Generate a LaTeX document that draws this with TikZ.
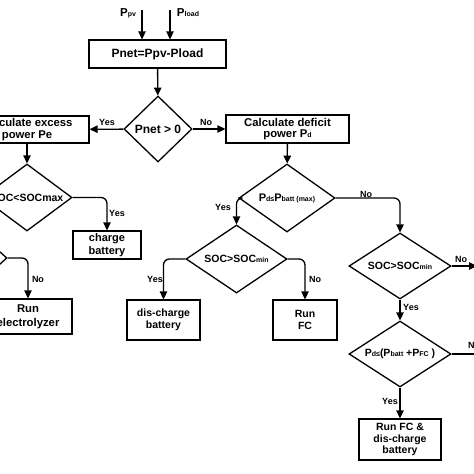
\documentclass[tikz,border=0pt]{standalone}
\usepackage{fontspec}
\setmainfont{Liberation Sans}
\usetikzlibrary{shapes.geometric,arrows.meta}
\newcommand{\smtxt}[1]{{\fontsize{7}{8}\selectfont #1}}
\tikzstyle{box} = [draw, line width=1.3pt, inner sep=0pt, align=center, font=\fontsize{10.5}{11.5}\selectfont\bfseries]
\tikzstyle{dec} = [draw, diamond, line width=1.3pt, inner sep=0pt]
\tikzstyle{dlbl} = [inner sep=0pt, font=\fontsize{10.5}{11.5}\selectfont\bfseries]
\tikzstyle{arr} = [line width=1.3pt, rounded corners=6pt, -{Triangle[length=8pt,width=7.5pt]}]
\tikzstyle{lbl} = [inner sep=0pt, font=\fontsize{9}{10}\selectfont\bfseries]

\begin{document}
\begin{tikzpicture}[x=1pt, y=-1pt]
\useasboundingbox (0,0) rectangle (474,474);
\clip (0,0) rectangle (474,474);
\node[lbl, font=\fontsize{11.5}{12}\selectfont\bfseries] (ppv) at (128,13) {P\smtxt{pv}};
\node[lbl, font=\fontsize{11.5}{12}\selectfont\bfseries] (pload) at (188,13) {P\smtxt{load}};
\coordinate (pvtop) at (142,10);
\coordinate (loadtop) at (170,10);
\node[box, minimum width=137pt, minimum height=28pt, font=\fontsize{12}{13}\selectfont\bfseries] (pnet) at (157.5,54) {Pnet=Ppv-Pload};
\node[dec, minimum width=68pt, minimum height=66pt,
      label={[dlbl, font=\fontsize{12}{13}\selectfont\bfseries]center:Pnet > 0}] (dpos) at (158,129) {};
\node[box, minimum width=124pt, minimum height=27pt, font=\fontsize{11.3}{11.5}\selectfont\bfseries] (excess) at (27,129.5) {Calculate excess\\power Pe};
\node[box, minimum width=123pt, minimum height=28pt, font=\fontsize{11.3}{11.5}\selectfont\bfseries] (deficit) at (287.5,129) {Calculate deficit\\power P\smtxt{d}};
\node[dec, minimum width=90pt, minimum height=67pt,
      label={[dlbl]center:SOC<SOCmax}] (dmax) at (27,197.5) {};
\node[box, minimum width=68pt, minimum height=28pt, font=\fontsize{11}{13}\selectfont\bfseries] (charge) at (107,245) {charge\\battery};
\node[dec, minimum width=80pt, minimum height=72pt] (dtank) at (-33,258) {};
\node[box, minimum width=88pt, minimum height=35pt, font=\fontsize{11.3}{14}\selectfont\bfseries] (elec) at (28,316.5) {Run\\electrolyzer};
\node[dec, minimum width=96pt, minimum height=68pt,
      label={[dlbl, font=\fontsize{11}{12}\selectfont\bfseries]center:P\smtxt{d≤}P\smtxt{batt (max)}}] (dbatt) at (287,198) {};
\node[dec, minimum width=101pt, minimum height=68pt,
      label={[dlbl]center:SOC>SOC\smtxt{min}}] (dsoca) at (236.5,259) {};
\node[box, minimum width=73pt, minimum height=40pt] (discharge) at (163.5,320) {dis-charge\\battery};
\node[box, minimum width=64pt, minimum height=40pt] (runfc) at (305,320) {Run\\FC};
\node[dec, minimum width=102pt, minimum height=66pt,
      label={[dlbl]center:SOC>SOC\smtxt{min}}] (dsocb) at (400,266) {};
\node[dec, minimum width=102pt, minimum height=66pt,
      label={[dlbl]center:P\smtxt{d≤}(P\smtxt{batt} +P\smtxt{FC} )}] (dsum) at (400,354) {};
\node[box, minimum width=82pt, minimum height=41pt] (fcdis) at (400,439.5) {Run FC \&\\dis-charge\\battery};
\coordinate (outa) at (477,266);
\coordinate (outb) at (495,354);

\draw[arr] (pvtop) -- (pvtop |- pnet.north);
\draw[arr] (loadtop) -- (loadtop |- pnet.north);
\draw[arr] (pnet) -- (dpos);
\draw[arr] (dpos) -- (excess);
\draw[arr] (dpos) -- (deficit);
\draw[arr] (excess.south -| dmax.north) -- (dmax.north);
\draw[arr] (deficit) -- (dbatt);
\draw[arr] (dmax.east) -| (charge.north);
\draw[arr] (dtank.east) -| (elec.north);
\draw[arr] (dbatt.west) -| (dsoca.north);
\draw[arr] (dbatt.east) -| (dsocb.north);
\draw[arr] (dsoca.west) -| (discharge.north);
\draw[arr] (dsoca.east) -| (runfc.north);
\draw[arr] (dsocb.east) -- (outa);
\draw[arr] (dsocb) -- (dsum);
\draw[arr] (dsum.east) -- (outb);
\draw[arr] (dsum) -- (fcdis);

\node[lbl] (lyesa) at (107,122) {Yes};
\node[lbl] (lnoa) at (206,122) {No};
\node[lbl] (lyesb) at (117,213) {Yes};
\node[lbl] (lnob) at (38,279) {No};
\node[lbl] (lyesc) at (223,207) {Yes};
\node[lbl] (lnoc) at (366,194) {No};
\node[lbl] (lyesd) at (155,279) {Yes};
\node[lbl] (lnod) at (315,279) {No};
\node[lbl] (lnoe) at (461,259) {No};
\node[lbl] (lyese) at (411,307) {Yes};
\node[lbl] (lnof) at (474,345) {No};
\node[lbl] (lyesf) at (390,401) {Yes};
\end{tikzpicture}
\end{document}
